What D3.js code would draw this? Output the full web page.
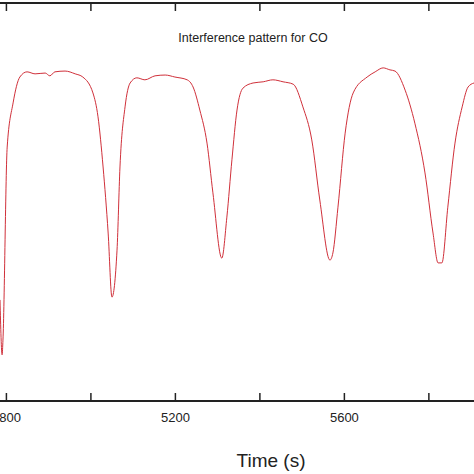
<!DOCTYPE html>
<html><head><meta charset="utf-8"><script src="https://cdn.jsdelivr.net/npm/d3@7"></script>
<style>body{margin:0;background:#fff}</style></head><body>
<svg id="c" width="474" height="474"></svg>
<script>
const times=[4786,4791,4793,4803,4817,4833,4850,4869,4893,4904,4916,4940,4964,4982,5006,5018,5030,5042,5051,5063,5070,5082,5094,5110,5129,5153,5177,5200,5229,5243,5259,5276,5290,5311,5323,5335,5347,5361,5385,5409,5432,5456,5480,5503,5524,5543,5567,5574,5586,5603,5622,5655,5674,5693,5709,5721,5745,5768,5792,5811,5823,5832,5846,5863,5880,5894,5908];
const signal=[25.4,11.6,15.3,63.8,74.9,81.4,82.7,82.2,82.4,81.7,82.7,82.9,82.2,81.4,77.4,71.4,58.8,42.2,26.1,37.9,58.8,73.9,79.9,81.2,80.7,81.7,81.9,81.4,80.7,78.9,73.1,64.8,52.3,35.9,46.2,60.6,73.1,78.6,79.9,80.2,80.7,80.2,79.6,73.9,65.6,50.5,35.4,37.2,48.7,67.3,77.4,81.4,82.7,83.7,83.2,82.9,78.1,69.8,57.3,42.2,34.7,34.7,48.7,64.8,73.9,78.9,79.9];
const xTicks=[4800,5000,5200,5400,5600,5800];
const xLabels=["4800","","5200","","5600",""];
const title="Interference pattern for CO", xTitle="Time (s)";

const svg=d3.select("#c");
const plotTop=3,plotBottom=401;
const x=d3.scaleLinear().domain([4786,5908]).range([0,474]);
const y=d3.scaleLinear().domain([0,100]).range([plotBottom,plotTop]);
const data=times.map((t,i)=>[t,signal[i]]);
svg.append("path").datum(data).attr("fill","none").attr("stroke","#d0303a").attr("stroke-width",1)
 .attr("d",d3.line().x(d=>x(d[0])).y(d=>y(d[1])).curve(d3.curveMonotoneX));
svg.append("rect").attr("x",-10).attr("y",plotTop).attr("width",494).attr("height",plotBottom-plotTop)
 .attr("fill","none").attr("stroke","#222").attr("stroke-width",2);
const bx=d3.axisBottom(x).tickValues(xTicks).tickSize(-8).tickPadding(12).tickFormat((d,i)=>xLabels[i]);
const gb=svg.append("g").attr("transform",`translate(0,${plotBottom})`).call(bx);
gb.select(".domain").remove();
gb.selectAll("line").attr("stroke","#222").attr("stroke-width",1.5);
gb.selectAll("text").attr("font-family","Liberation Sans, Arial").attr("font-size",13).attr("fill","#222");
const tx=d3.axisTop(x).tickValues(xTicks).tickSize(-8).tickFormat("");
const gt=svg.append("g").attr("transform",`translate(0,${plotTop})`).call(tx);
gt.select(".domain").remove();
gt.selectAll("line").attr("stroke","#222").attr("stroke-width",1.5);
svg.append("text").attr("x",253).attr("y",42).attr("text-anchor","middle").attr("font-family","Liberation Sans, Arial").attr("font-size",12.5).attr("fill","#222").text(title);
svg.append("text").attr("x",271).attr("y",467).attr("text-anchor","middle").attr("font-family","Liberation Sans, Arial").attr("font-size",19).attr("fill","#222").text(xTitle);
</script></body></html>
